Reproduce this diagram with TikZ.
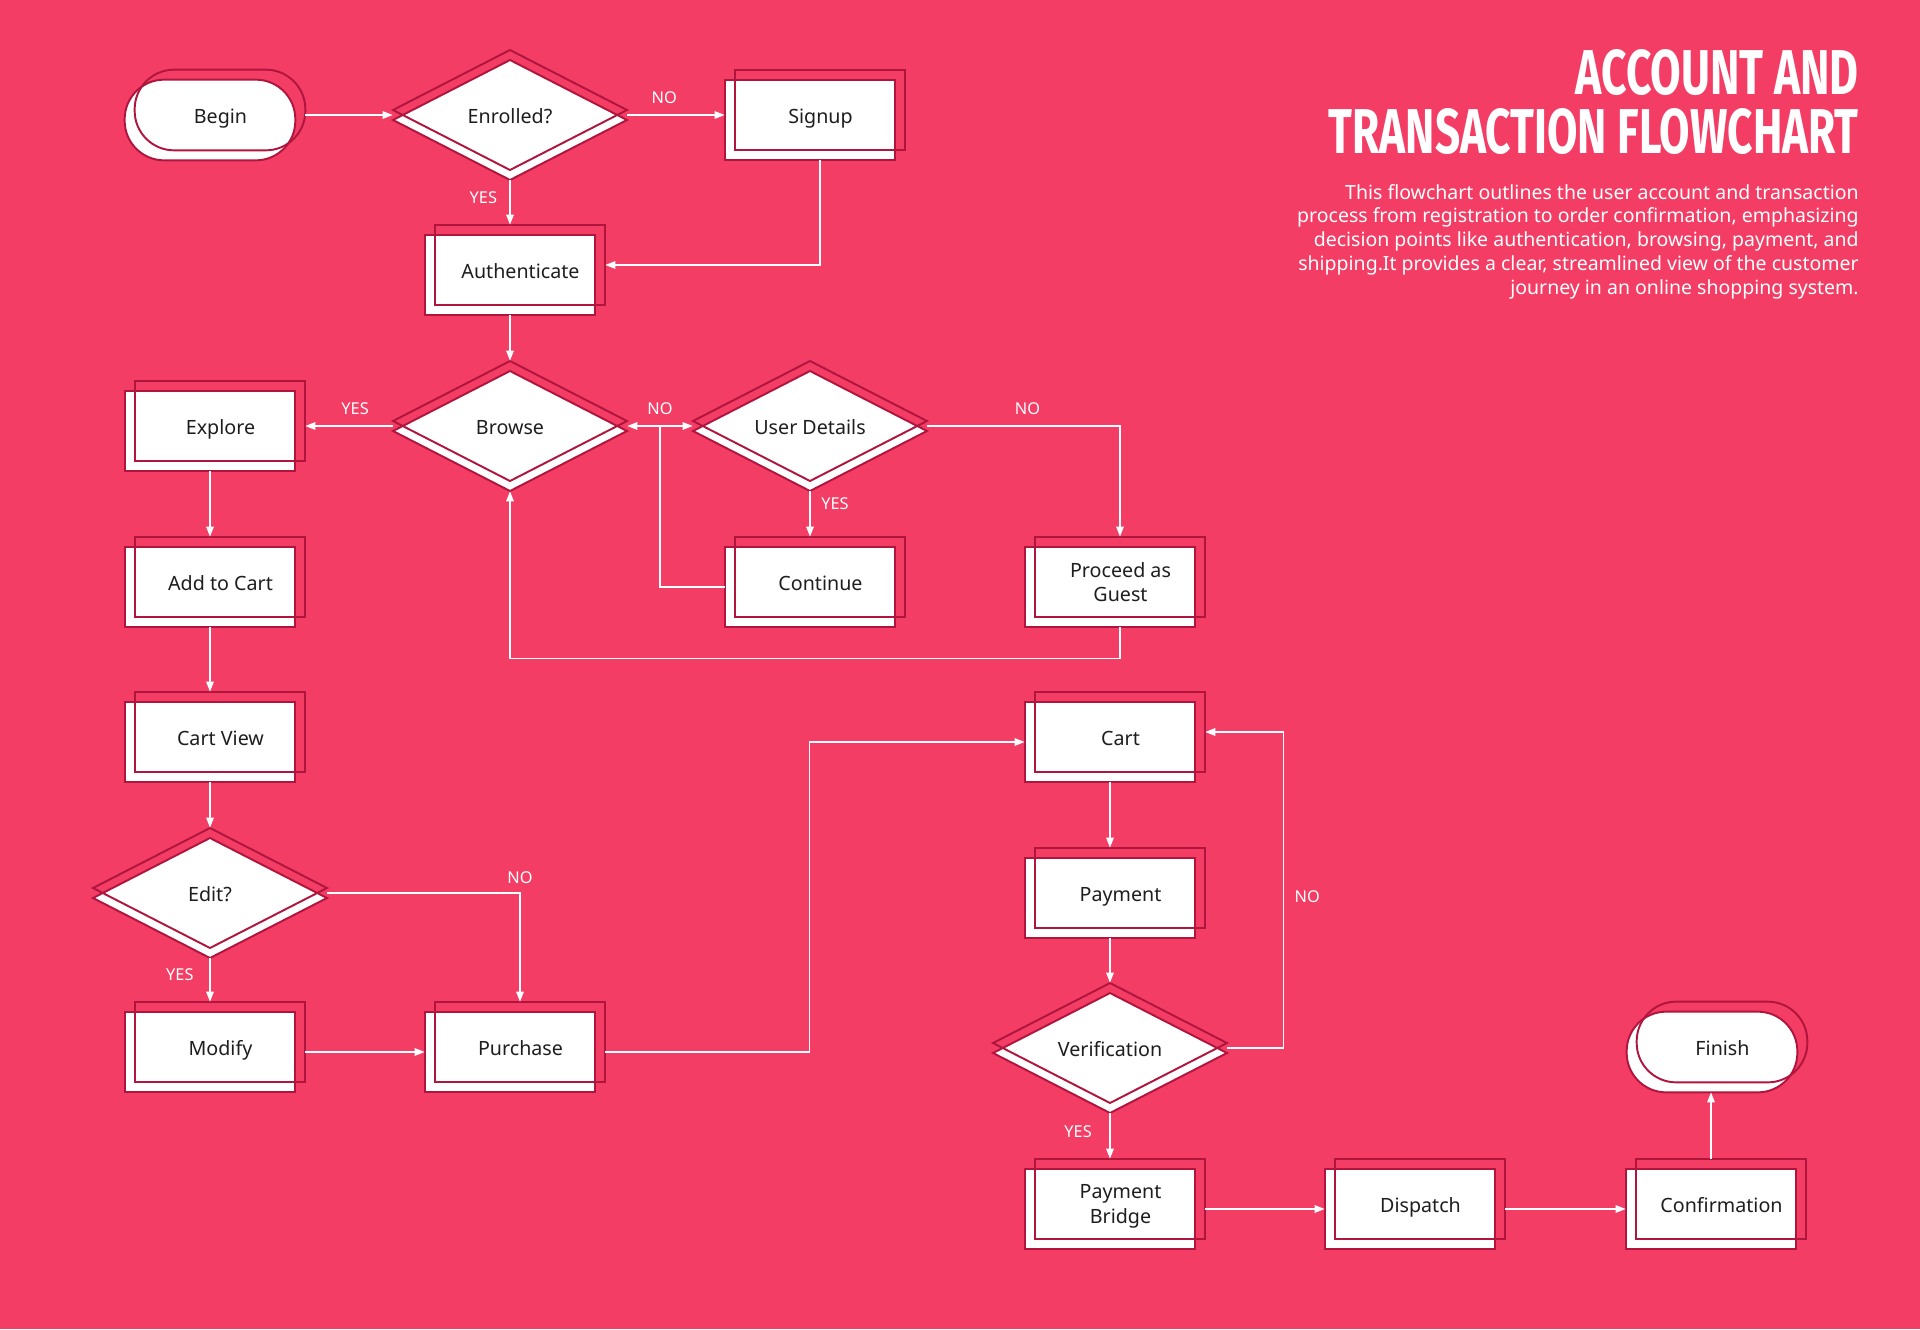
\documentclass[tikz,border=0pt]{standalone}
\usepackage{fontspec}
\usepackage{graphicx}
\setmainfont{Noto Sans}
\newfontfamily\titlefont{Fira Sans}
\usetikzlibrary{arrows.meta,calc}
\definecolor{bgpink}{HTML}{F43D65}
\definecolor{dkred}{HTML}{B0153D}
\definecolor{ink}{HTML}{1E1E1E}
\pgfdeclarelayer{bglayer}
\pgfdeclarelayer{decolayer}
\pgfsetlayers{bglayer,decolayer,main}
\newcommand\tsh{\hspace*{0.22cm}}
\tikzset{
  fcbase/.style={rectangle, minimum width=3.6cm, minimum height=1.8cm, inner sep=0pt, align=center, text=ink, font=\fontsize{11.2}{13.9}\selectfont},
  fcbox/.style={fcbase, text height=9.6pt, text depth=0pt},
  fctwo/.style={fcbase, text depth=0pt},
  fcdia/.style={fcbox, minimum width=4.68cm, minimum height=2.6cm},
  whitefill/.style={fill=white, draw=dkred, line width=1.1pt},
  outl/.style={draw=dkred, line width=1.1pt},
  conn/.style={draw=white, line width=0.8pt},
  arr/.style={conn, -{Triangle[length=0.2cm,width=0.15cm]}},
  arrtwo/.style={conn, {Triangle[length=0.2cm,width=0.15cm]}-{Triangle[length=0.2cm,width=0.15cm]}},
  lab/.style={text=white, font=\fontsize{9.3}{11}\selectfont, inner sep=0pt},
}
\newcommand\rectdeco[1]{\begin{pgfonlayer}{decolayer}
  \path[whitefill] (#1.south west) rectangle ([shift={(-10,10)}]#1.north east);
  \path[outl] ([shift={(10,-10)}]#1.south west) rectangle (#1.north east);
\end{pgfonlayer}}
\newcommand\stadeco[1]{\begin{pgfonlayer}{decolayer}
  \path[whitefill, rounded corners=0.79cm] (#1.south west) rectangle ([shift={(-10,10)}]#1.north east);
  \path[outl, rounded corners=0.79cm] ([shift={(10,-10)}]#1.south west) rectangle (#1.north east);
\end{pgfonlayer}}
\newcommand\diadeco[1]{\begin{pgfonlayer}{decolayer}
  \path[whitefill] ([shift={(-117,5)}]#1.center) -- ([shift={(0,-55)}]#1.center) -- ([shift={(117,5)}]#1.center) -- ([shift={(0,65)}]#1.center) -- cycle;
  \path[outl] ([shift={(-117,-5)}]#1.center) -- ([shift={(0,-65)}]#1.center) -- ([shift={(117,-5)}]#1.center) -- ([shift={(0,55)}]#1.center) -- cycle;
\end{pgfonlayer}}
\begin{document}
\begin{tikzpicture}[x=0.02cm, y=-0.02cm]
\useasboundingbox (0,0) rectangle (1920,1329);
\begin{pgfonlayer}{bglayer}
  \fill[bgpink] (0,0) rectangle (1920,1329);
\end{pgfonlayer}

% title and description
\node[anchor=north east, inner sep=0pt, text=white] (title1) at (1859,49) {\resizebox{5.66cm}{0.9cm}{\titlefont\bfseries ACCOUNT AND}};
\node[anchor=north east, inner sep=0pt, text=white] (title2) at (1859,108) {\resizebox{10.6cm}{0.9cm}{\titlefont\bfseries TRANSACTION FLOWCHART}};
\node[anchor=north east, align=right, text=white, inner sep=0pt, font=\fontsize{11.1}{13.5}\selectfont] (desc) at (1859,184) {This flowchart outlines the user account and transaction\\process from registration to order confirmation, emphasizing\\decision points like authentication, browsing, payment, and\\shipping.It provides a clear, streamlined view of the customer\\journey in an online shopping system.};

% nodes
\node[fcbox] (begin) at (215,115) {\tsh Begin};
\node[fcdia] (enrolled) at (510,115) {Enrolled?};
\node[fcbox] (signup) at (815,115) {\tsh Signup};
\node[fcbox] (auth) at (515,270) {\tsh Authenticate};
\node[fcdia] (browse) at (510,426) {Browse};
\node[fcdia] (ud) at (810,426) {User Details};
\node[fcbox] (explore) at (215,426) {\tsh Explore};
\node[fcbox] (addcart) at (215,582) {\tsh Add to Cart};
\node[fcbox] (cont) at (815,582) {\tsh Continue};
\node[fctwo] (pg) at (1115,582) {\tsh Proceed as\\\tsh Guest};
\node[fcbox] (cartview) at (215,737) {\tsh Cart View};
\node[fcbox] (cart) at (1115,737) {\tsh Cart};
\node[fcdia] (edit) at (210,893) {Edit?};
\node[fcbox] (payment) at (1115,893) {\tsh Payment};
\node[fcdia] (verif) at (1110,1048) {Verification};
\node[fcbox] (modify) at (215,1047) {\tsh Modify};
\node[fcbox] (purchase) at (515,1047) {\tsh Purchase};
\node[fcbox] (finish) at (1717,1047) {\tsh Finish};
\node[fctwo] (pb) at (1115,1204) {\tsh Payment\\\tsh Bridge};
\node[fcbox] (dispatch) at (1415,1204) {\tsh Dispatch};
\node[fcbox] (confirm) at (1716,1204) {\tsh Confirmation};

\stadeco{begin}\stadeco{finish}
\diadeco{enrolled}\diadeco{browse}\diadeco{ud}\diadeco{edit}\diadeco{verif}
\rectdeco{signup}\rectdeco{auth}\rectdeco{explore}\rectdeco{addcart}\rectdeco{cont}
\rectdeco{pg}\rectdeco{cartview}\rectdeco{cart}\rectdeco{payment}\rectdeco{modify}
\rectdeco{purchase}\rectdeco{pb}\rectdeco{dispatch}\rectdeco{confirm}

% connectors
\draw[arr] (begin.east) -- (enrolled.west);
\draw[arr] (enrolled.east) -- node[lab, above=6pt, pos=0.38]{NO} (signup.west);
\draw[arr] (enrolled.south) -- node[lab, left=7pt, pos=0.38]{YES} (enrolled.south |- auth.north);
\draw[arr] ([shift={(5,0)}]signup.south) |- ([shift={(0,-5)}]auth.east);
\draw[arr] ([shift={(-5,0)}]auth.south) -- (browse.north);
\draw[arr] (browse.west) -- node[lab, above=6pt, pos=0.43]{YES} (explore.east);
\draw[arrtwo] (browse.east) -- (ud.west);
\coordinate (junc) at ($(browse.east)!0.5!(ud.west)$);
\node[lab, above=6pt] (nolab) at (junc) {NO};
\draw[conn] ([shift={(0,5)}]cont.west) -| (junc);
\draw[arr] (ud.south) -- node[lab, right=6pt, pos=0.27]{YES} (ud.south |- cont.north);
\draw[arr] (ud.east) -| node[lab, above=6pt, pos=0.26]{NO} ([shift={(5,0)}]pg.north);
\draw[arr] ([shift={(5,0)}]pg.south) -- ++(0,31) -| (browse.south);
\draw[arr] ([shift={(-5,0)}]explore.south) -- ([shift={(-5,0)}]addcart.north);
\draw[arr] ([shift={(-5,0)}]addcart.south) -- ([shift={(-5,0)}]cartview.north);
\draw[arr] ([shift={(-5,0)}]cartview.south) -- (edit.north);
\draw[arr] (edit.south) -- node[lab, left=9pt, pos=0.38]{YES} ([shift={(-5,0)}]modify.north);
\draw[arr] (edit.east) -| node[lab, above=5pt, pos=0.5]{NO} ([shift={(5,0)}]purchase.north);
\draw[arr] ([shift={(0,5)}]modify.east) -- ([shift={(0,5)}]purchase.west);
\draw[arr] ([shift={(0,5)}]purchase.east) -- ++(204,0) |- ([shift={(0,5)}]cart.west);
\draw[arr] ([shift={(-5,0)}]cart.south) -- ([shift={(-5,0)}]payment.north);
\draw[arr] ([shift={(-5,0)}]payment.south) -- (verif.north);
\draw[arr] (verif.east) -- ++(56,0) |- node[lab, right=6pt, pos=0.24]{NO} ([shift={(0,-5)}]cart.east);
\draw[arr] (verif.south) -- node[lab, left=10pt, pos=0.4]{YES} ([shift={(-5,0)}]pb.north);
\draw[arr] ([shift={(0,5)}]pb.east) -- ([shift={(0,5)}]dispatch.west);
\draw[arr] ([shift={(0,5)}]dispatch.east) -- ([shift={(0,5)}]confirm.west);
\draw[arr] ([shift={(-5,0)}]confirm.north) -- ([shift={(-5,0)}]confirm.north |- finish.south);
\end{tikzpicture}
\end{document}
